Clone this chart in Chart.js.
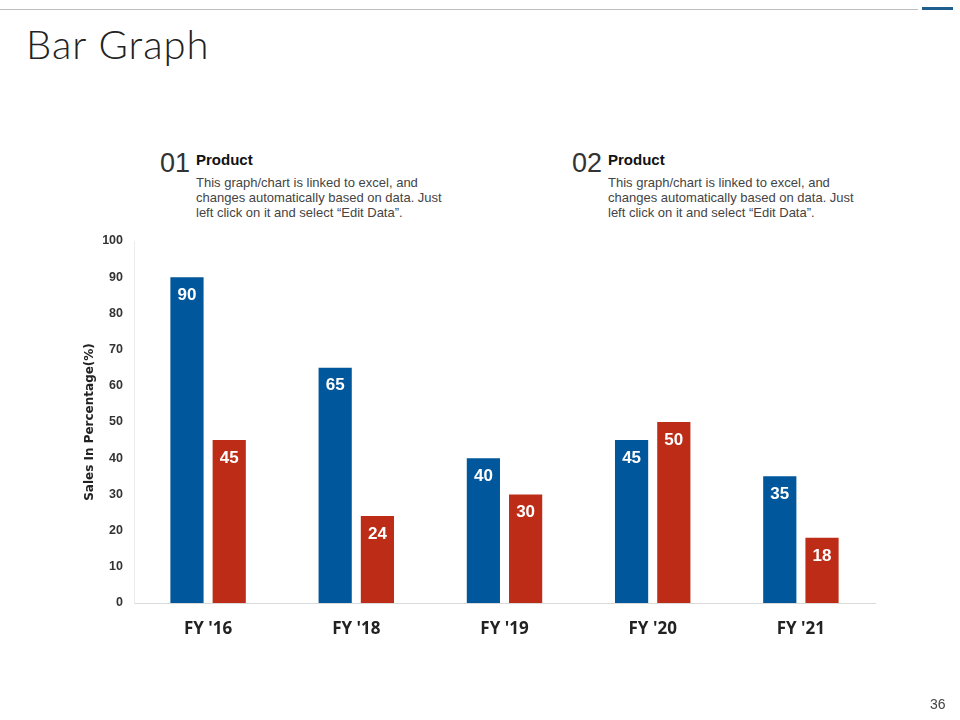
<!DOCTYPE html>
<html>
<head>
<meta charset="utf-8">
<script src="https://cdn.jsdelivr.net/npm/chart.js@4"></script>
<style>
  html, body { margin: 0; padding: 0; background: #fff; }
  #page { position: relative; width: 960px; height: 720px; overflow: hidden; font-family: "Liberation Sans", Arial, sans-serif; }
  #topline { position: absolute; left: 0; top: 9px; width: 918px; height: 1px; background: #bdbdbd; }
  #topmark { position: absolute; left: 922px; top: 7px; width: 31px; height: 3px; background: #1f5f8f; }
  #title { position: absolute; left: 26px; top: 20px; font-family: "Lato", sans-serif; font-weight: 300; font-size: 40px; letter-spacing: 1px; color: #222; }
  .note { position: absolute; top: 148px; }
  .num { position: absolute; left: 0; top: 0; font-size: 27px; color: #333; }
  .head { position: absolute; left: 36px; top: 3px; font-weight: bold; font-size: 15px; color: #111; }
  .desc { position: absolute; left: 36px; top: 27px; width: 262px; font-size: 13px; line-height: 15px; color: #444; }
  #pageno { position: absolute; left: 930px; top: 696px; font-size: 14px; color: #444; }
  #chart { position: absolute; left: 0; top: 0; }
</style>
</head>
<body>
<div id="page">
  <div id="topline"></div>
  <div id="topmark"></div>
  <div id="title">Bar Graph</div>
  <div class="note" style="left:160px">
    <div class="num">01</div>
    <div class="head">Product</div>
    <div class="desc">This graph/chart is linked to excel, and changes automatically based on data. Just left click on it and select “Edit Data”.</div>
  </div>
  <div class="note" style="left:572px">
    <div class="num">02</div>
    <div class="head">Product</div>
    <div class="desc">This graph/chart is linked to excel, and changes automatically based on data. Just left click on it and select “Edit Data”.</div>
  </div>
  <canvas id="chart" width="960" height="720"></canvas>
  <div id="pageno">36</div>
</div>
<script>
(function () {
    const categories = ["FY '16", "FY '18", "FY '19", "FY '20", "FY '21"];
    const product01 = [90, 65, 40, 45, 35];
    const product02 = [45, 24, 30, 50, 18];
    const yTicks = [0, 10, 20, 30, 40, 50, 60, 70, 80, 90, 100];

    // white value labels just inside the top of each bar
    const barLabels = {
        id: 'barLabels',
        afterDatasetsDraw(chart) {
            const c = chart.ctx;
            c.save();
            c.fillStyle = '#fff';
            c.font = 'bold 17px "Liberation Sans", Arial, sans-serif';
            c.textAlign = 'center';
            c.textBaseline = 'middle';
            chart.data.datasets.forEach(function (ds, i) {
                chart.getDatasetMeta(i).data.forEach(function (bar, j) {
                    c.fillText(ds.data[j], bar.x, bar.y + 18);
                });
            });
            c.restore();
        }
    };

    new Chart(document.getElementById('chart'), {
        type: 'bar',
        data: {
            labels: categories,
            datasets: [
                { label: '01 Product', data: product01, backgroundColor: '#01579b' },
                { label: '02 Product', data: product02, backgroundColor: '#bd2c17' },
            ],
        },
        options: {
            responsive: false,
            animation: false,
            categoryPercentage: 0.57,
            barPercentage: 0.786,
            layout: { padding: { left: 80, right: 85, top: 241, bottom: 67 } },
            scales: {
                x: {
                    afterFit: s => { s.height = 50; },
                    grid: { display: false, drawTicks: false },
                    border: { color: '#d9d9d9' },
                    ticks: {
                        padding: 16,
                        color: '#222',
                        font: { family: '"Open Sans", sans-serif', weight: 'bold', size: 17 },
                    },
                },
                y: {
                    min: 0,
                    max: 100,
                    afterFit: s => { s.width = 54; },
                    afterBuildTicks: s => { s.ticks = yTicks.map(v => ({ value: v })); },
                    grid: { display: false, drawTicks: false },
                    border: { color: '#ececec' },
                    ticks: {
                        padding: 11,
                        color: '#333',
                        font: { family: '"Liberation Sans", Arial, sans-serif', weight: 'bold', size: 12.5 },
                    },
                    title: {
                        display: true,
                        text: 'Sales In Percentage(%)',
                        color: '#222',
                        padding: 3,
                        font: { family: '"DejaVu Sans", sans-serif', weight: 'bold', size: 12 },
                    },
                },
            },
            plugins: {
                legend: { display: false },
                tooltip: { enabled: false },
            },
        },
        plugins: [barLabels],
    });
})();
</script>
</body>
</html>
